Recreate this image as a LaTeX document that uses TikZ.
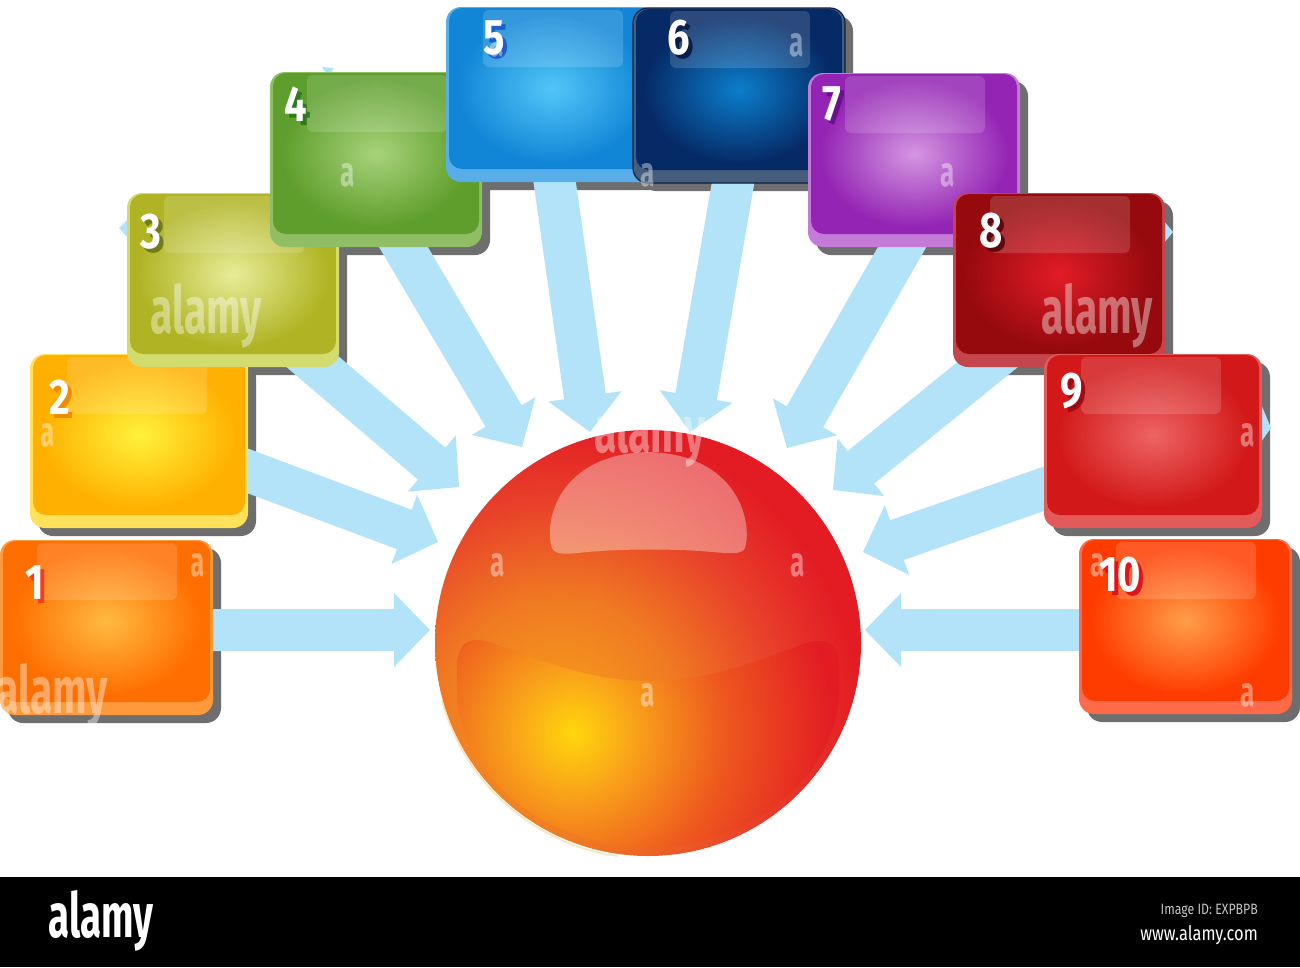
\documentclass[tikz,border=0pt]{standalone}
\usepackage{fontspec}
\usetikzlibrary{calc}
\newfontfamily\wmfont[FakeStretch=0.62]{Fira Sans}
\newfontfamily\numfont[FakeStretch=0.8]{Fira Sans}
\newfontfamily\barfont[FakeStretch=0.82]{Fira Sans}
\definecolor{arrowc}{HTML}{B2E3F8}
\definecolor{shadowc}{HTML}{6E6E6E}
\definecolor{boxin}{HTML}{FFFFFF}
\definecolor{boxout}{HTML}{000000}
\definecolor{sphY}{HTML}{FFD60C}
\definecolor{sphA}{HTML}{F7A01C}
\definecolor{sphB}{HTML}{F07A22}
\definecolor{sphC}{HTML}{E8402A}
\definecolor{sphR}{HTML}{E31C24}
\definecolor{blobB}{HTML}{F9A31A}
\definecolor{blobC}{HTML}{EE5A1E}
% box colours: inner, outer, lip, number shadow
\definecolor{iA}{HTML}{FFBA40}\definecolor{oA}{HTML}{FF6E00}\definecolor{lA}{HTML}{FF9A3C}\definecolor{nA}{HTML}{F0401A}
\definecolor{iB}{HTML}{FFF23A}\definecolor{oB}{HTML}{FFB000}\definecolor{lB}{HTML}{FFE15A}\definecolor{nB}{HTML}{F08A00}
\definecolor{iC}{HTML}{E8EC98}\definecolor{oC}{HTML}{B0B424}\definecolor{lC}{HTML}{D2DC6E}\definecolor{nC}{HTML}{6F7A1A}
\definecolor{iD}{HTML}{A8D27A}\definecolor{oD}{HTML}{5E9E2C}\definecolor{lD}{HTML}{90BE64}\definecolor{nD}{HTML}{2F7A1E}
\definecolor{iE}{HTML}{52C6F8}\definecolor{oE}{HTML}{1286D6}\definecolor{lE}{HTML}{58AEE8}\definecolor{nE}{HTML}{1A60C8}
\definecolor{iF}{HTML}{0C7ECC}\definecolor{oF}{HTML}{062A66}\definecolor{lF}{HTML}{465E7E}\definecolor{nF}{HTML}{0A1E46}
\definecolor{iG}{HTML}{D496E2}\definecolor{oG}{HTML}{9424B4}\definecolor{lG}{HTML}{C57ADA}\definecolor{nG}{HTML}{6A1090}
\definecolor{iH}{HTML}{E21C26}\definecolor{oH}{HTML}{960A0E}\definecolor{lH}{HTML}{C4464C}\definecolor{nH}{HTML}{5A0A10}
\definecolor{iI}{HTML}{EE6464}\definecolor{oI}{HTML}{D21818}\definecolor{lI}{HTML}{E25A5A}\definecolor{nI}{HTML}{A00A14}
\definecolor{iJ}{HTML}{FF9E48}\definecolor{oJ}{HTML}{FF3C00}\definecolor{lJ}{HTML}{FF6A4A}\definecolor{nJ}{HTML}{E0141A}

\pgfdeclareradialshading[boxin,boxout]{keyshade}{\pgfpoint{0bp}{0bp}}{color(0bp)=(boxin); color(23bp)=(boxout); color(50bp)=(boxout)}
\pgfdeclareradialshading{spheresh}{\pgfpoint{0bp}{0bp}}{color(0bp)=(sphA); color(7bp)=(sphB); color(12.8bp)=(sphC); color(17.4bp)=(sphR); color(50bp)=(sphR)}
\pgfdeclareradialshading{blobsh}{\pgfpoint{0bp}{0bp}}{color(0bp)=(sphY); color(3.5bp)=(blobB); color(8.7bp)=(blobC); color(15.1bp)=(sphR); color(50bp)=(sphR)}

\newcommand{\blockarrow}[2]{%
  \coordinate (ba-h) at ($(#2)!36pt!(#1)$);
  \fill[arrowc] ($(#1)!21pt!90:(#2)$) -- ($(ba-h)!21pt!-90:(#1)$) -- ($(ba-h)!37pt!-90:(#1)$) -- (#2)
     -- ($(ba-h)!37pt!90:(#1)$) -- ($(ba-h)!21pt!90:(#1)$) -- ($(#1)!21pt!-90:(#2)$) -- cycle;}

\newcommand{\boxshadow}[1]{%
  \fill[shadowc, rounded corners=15pt] ([shift={(8,8)}]#1.north west) rectangle ([shift={(8,8)}]#1.south east);}

\newcommand{\paintbox}[7]{%
  \fill[#4, rounded corners=15pt] (#1.north west) rectangle (#1.south east);
  \colorlet{boxin}{#2}\colorlet{boxout}{#3}%
  \shade[shading=keyshade, rounded corners=13pt] ([shift={(3,1)}]#1.north west) rectangle ([shift={(-3,-13)}]#1.south east);
  \fill[white, fill opacity=0.15, rounded corners=6pt] ([shift={(37,3)}]#1.north west) rectangle ([shift={(177,60)}]#1.north west);
  \node[numtxt, text=#7] (#1-ns) at ($(#6)+(4,4)$) {#5};
  \node[numtxt] (#1-n) at (#6) {#5};}

\tikzset{
  keyframe/.style={rectangle, inner sep=0pt, outer sep=0pt, draw=none},
  numtxt/.style={font=\numfont\bfseries\fontsize{50}{50}\selectfont, text=white, inner sep=0pt},
  wmbig/.style={font=\wmfont\bfseries\fontsize{66}{66}\selectfont, text=white, text opacity=0.4, inner sep=0pt, anchor=base},
  wmsmall/.style={font=\wmfont\bfseries\fontsize{42}{42}\selectfont, text=white, text opacity=0.4, inner sep=0pt, anchor=base}
}

\begin{document}
\begin{tikzpicture}[x=1pt,y=-1pt]
\useasboundingbox (0,0) rectangle (1300,967);
\fill[white] (0,0) rectangle (1300,967);

% frames of the keys
\node[keyframe, minimum width=213pt, minimum height=175pt] (b1) at (106.5,627.5) {};
\node[keyframe, minimum width=218pt, minimum height=174pt] (b2) at (139,441) {};
\node[keyframe, minimum width=212pt, minimum height=174pt] (b3) at (233,280) {};
\node[keyframe, minimum width=212pt, minimum height=175pt] (b4) at (376,159.5) {};
\node[keyframe, minimum width=212pt, minimum height=175pt] (b5) at (552,94.5) {};
\node[keyframe, minimum width=212pt, minimum height=175pt] (b6) at (739,95.5) {};
\node[keyframe, minimum width=212pt, minimum height=174pt] (b7) at (914,160) {};
\node[keyframe, minimum width=212pt, minimum height=174pt] (b8) at (1059,280) {};
\node[keyframe, minimum width=218pt, minimum height=174pt] (b9) at (1153,441) {};
\node[keyframe, minimum width=213pt, minimum height=175pt] (b10) at (1185.5,626.5) {};
\node[circle, inner sep=0pt, minimum size=426pt] (hub) at (648,643) {};

% shadows
\foreach \b in {b1,b2,b3,b4,b5,b6,b7,b8,b9,b10} {\boxshadow{\b}}

% small hidden arrow tips
\fill[arrowc] (119,228) -- (128,219) -- (128,238) -- cycle;
\fill[arrowc] (322,67) -- (334,68) -- (328,77) -- cycle;
\fill[arrowc] (1173,232) -- (1164,221) -- (1164,243) -- cycle;
\fill[arrowc] (1271,428) -- (1261,404) -- (1261,442) -- cycle;

% arrow ends
\coordinate (t1) at (150,630);   \coordinate (p1) at (430,630);
\coordinate (t2) at (157,437);   \coordinate (p2) at (438,542);
\coordinate (t3) at (231,292);   \coordinate (p3) at (459,487);
\coordinate (t4) at (369,189);   \coordinate (p4) at (522,447);
\coordinate (t5) at (548,135);   \coordinate (p5) at (590,432);
\coordinate (t6) at (741,137);   \coordinate (p6) at (690,432);
\coordinate (t7) at (936,188);   \coordinate (p7) at (787,448);
\coordinate (t8) at (1066,301);  \coordinate (p8) at (833,490);
\coordinate (t9) at (1146,453);  \coordinate (p9) at (863,552);
\coordinate (t10) at (1150,630); \coordinate (p10) at (865,630);
\foreach \i in {1,...,10} {\blockarrow{t\i}{p\i}}

% keys
\paintbox{b1}{iA}{oA}{lA}{1}{35,583}{nA}
\paintbox{b2}{iB}{oB}{lB}{2}{60,397}{nB}
\paintbox{b3}{iC}{oC}{lC}{3}{151,232}{nC}
\paintbox{b4}{iD}{oD}{lD}{4}{296,104}{nD}
\paintbox{b5}{iE}{oE}{lE}{5}{494,38}{nE}
\paintbox{b6}{iF}{oF}{lF}{6}{679,38}{nF}
\draw[nF, line width=1.2pt, rounded corners=15pt] (b6.north west) rectangle (b6.south east);
\paintbox{b7}{iG}{oG}{lG}{7}{832,104}{nG}
\paintbox{b8}{iH}{oH}{lH}{8}{991,231}{nH}
\paintbox{b9}{iI}{oI}{lI}{9}{1072,391}{nI}
\paintbox{b10}{iJ}{oJ}{lJ}{10}{1120,575}{nJ}

% sphere
\begin{scope}
  \clip (hub.center) circle (213pt);
  \shade[shading=spheresh] (560,720) circle (430pt);
  \begin{scope}
    \clip (457,662) .. controls (460,640) and (472,636) .. (492,643)
      .. controls (560,668) and (600,681) .. (650,681)
      .. controls (700,681) and (740,668) .. (806,643)
      .. controls (828,636) and (840,645) .. (839,668)
      -- (839,700) .. controls (830,785) and (740,848) .. (648,848)
      .. controls (556,848) and (466,785) .. (457,700) -- cycle;
    \shade[shading=blobsh] (573,733) circle (430pt);
  \end{scope}
  \fill[white, fill opacity=0.35] (552,548) .. controls (543,520) and (560,454) .. (648,452)
      .. controls (736,454) and (753,520) .. (745,548)
      .. controls (741,556) and (728,553) .. (700,551)
      .. controls (670,549) and (630,549) .. (600,551)
      .. controls (572,553) and (556,557) .. (552,548) -- cycle;
\end{scope}
\draw[sphA!60!white, opacity=0.5, line width=1.5pt] ([shift={(-30,0)}]hub.south) arc[start angle=-98, end angle=-165, radius=213pt];

% watermarks
\node[wmbig] (wm1) at (206,333) {alamy};
\node[wmbig] (wm2) at (1097,333) {alamy};
\node[wmbig] (wm3) at (52,713) {alamy};
\node[wmbig] (wm4) at (650,452) {alamy};
\foreach \p [count=\k] in {(497,56),(797,56),(348,186),(648,186),(948,186),(48,446),(1248,446),(198,576),(498,576),(798,576),(1098,576),(648,706),(1248,706)}
  {\node[wmsmall] (wa\k) at \p {a};}

% bottom bar
\fill[black] (0,877) rectangle (1300,967);
\node[font=\wmfont\bfseries\fontsize{62}{62}\selectfont, text=white, anchor=base, inner sep=0pt] (barlogo) at (101,937) {alamy};
\node[font=\barfont\fontsize{15}{15}\selectfont, text=white!78!black, anchor=base east, inner sep=0pt] (barid) at (1258,914) {Image ID: EXPBPB};
\node[font=\barfont\fontsize{20}{20}\selectfont, text=white, anchor=base east, inner sep=0pt] (barurl) at (1258,940) {www.alamy.com};
\end{tikzpicture}
\end{document}
